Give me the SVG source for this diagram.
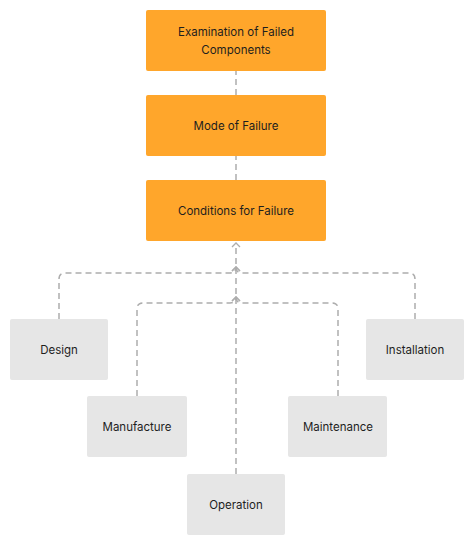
<svg xmlns="http://www.w3.org/2000/svg" width="474" height="545" viewBox="0 0 474 545">
<style>
.o{fill:#FFA62B;}
.g{fill:#E6E6E6;}
.t{font-family:Inter,"Liberation Sans",sans-serif;font-size:11.5px;fill:#1e1e1e;text-anchor:middle;dominant-baseline:central;}
.c{fill:none;stroke:#ADADAD;stroke-width:1.5;stroke-dasharray:6,4;}
</style>
<defs>
<marker id="ah" markerWidth="10" markerHeight="10" refX="5" refY="5" orient="auto" markerUnits="userSpaceOnUse">
<path d="M1,1 L5,5 L1,9" fill="none" stroke="#ADADAD" stroke-width="1.3"/>
</marker>
</defs>
<rect width="474" height="545" fill="#fff"/>
<g id="connectors">
<path class="c" d="M236,95 V71"/>
<path class="c" d="M236,180 V156"/>
<path class="c" d="M59,319 V279 Q59,273 65,273 H230 Q236,273 236,267" marker-end="url(#ah)"/>
<path class="c" d="M415,319 V279 Q415,273 409,273 H242 Q236,273 236,267" marker-end="url(#ah)"/>
<path class="c" d="M137,396 V309 Q137,303 143,303 H230 Q236,303 236,297" marker-end="url(#ah)"/>
<path class="c" d="M338,396 V309 Q338,303 332,303 H242 Q236,303 236,297" marker-end="url(#ah)"/>
<path class="c" d="M236,474 V243" marker-end="url(#ah)"/>
</g>
<g id="examination"><rect class="o" x="146" y="10" width="180" height="61" rx="2"/><text class="t" x="236" y="32">Examination of Failed</text><text class="t" x="236" y="49.5">Components</text></g>
<g id="mode"><rect class="o" x="146" y="95" width="180" height="61" rx="2"/><text class="t" x="236" y="126">Mode of Failure</text></g>
<g id="conditions"><rect class="o" x="146" y="180" width="180" height="61" rx="2"/><text class="t" x="236" y="211">Conditions for Failure</text></g>
<g id="design"><rect class="g" x="10" y="319" width="98" height="61" rx="2"/><text class="t" x="59" y="350">Design</text></g>
<g id="installation"><rect class="g" x="366" y="319" width="98" height="61" rx="2"/><text class="t" x="415" y="350">Installation</text></g>
<g id="manufacture"><rect class="g" x="87" y="396" width="100" height="61" rx="2"/><text class="t" x="137" y="427">Manufacture</text></g>
<g id="maintenance"><rect class="g" x="288" y="396" width="99" height="61" rx="2"/><text class="t" x="338" y="427">Maintenance</text></g>
<g id="operation"><rect class="g" x="187" y="474" width="98" height="61" rx="2"/><text class="t" x="236" y="505">Operation</text></g>
</svg>
